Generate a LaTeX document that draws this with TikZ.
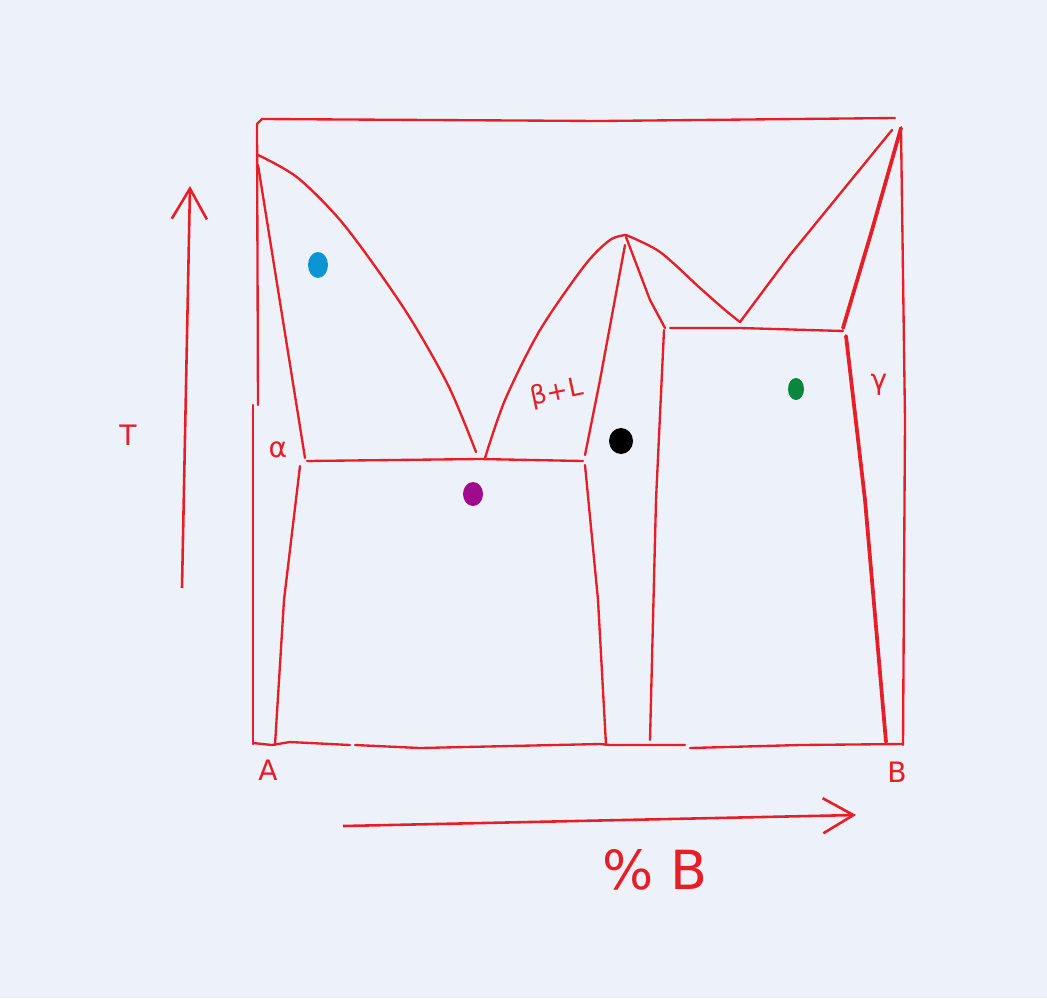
\documentclass[tikz,border=0pt]{standalone}
\usepackage{fontspec}
\usepackage{tikz}
\usetikzlibrary{arrows.meta}
\newfontfamily\labfont{DejaVu Sans}
\definecolor{pen}{RGB}{230,30,40}
\definecolor{paper}{RGB}{237,242,250}
\definecolor{dotblue}{RGB}{10,150,210}
\definecolor{dotpurple}{RGB}{160,10,140}
\definecolor{dotgreen}{RGB}{10,135,60}
\tikzset{
  ink/.style={draw=pen, line width=2pt, line cap=round, line join=round},
  heavyink/.style={draw=pen, line width=3.2pt, line cap=round},
  axisarrow/.style={draw=pen, line width=2.2pt, -{Straight Barb[length=26pt,width=30pt,line width=2.2pt]}},
  lab/.style={text=pen, inner sep=1pt, font=\labfont\fontsize{24}{26}\selectfont},
}

\begin{document}
\begin{tikzpicture}[x=0.03cm,y=-0.03cm]
			%%%%% START %%%%%
			\fill[paper] (0,0) rectangle (1047,998);
			\useasboundingbox (0,0) rectangle (1047,998);
			
			% outer frame
			\draw[ink] (895,118) -- (600,121) -- (262,119) -- (257,124) -- (258,405);
			\draw[ink] (253,405) -- (253,744);
			\draw[ink] (901,130) -- (905,420) -- (903,745);
			\draw[ink] (253,743) -- (272,745) -- (290,742) -- (350,745);
			\draw[ink] (355,745) -- (420,748) -- (600,744) -- (610,745) -- (685,745);
			\draw[ink] (690,748) -- (800,745) -- (903,744);
			
			% left liquidus and alpha solvus
			\draw[ink] plot[smooth] coordinates {(258,155) (298,178) (345,226) (405,310) (448,385) (476,452)};
			\draw[ink] (258,165) -- (305,458);
			\draw[ink] (300,466) -- (284,600) -- (275,745);
			
			% eutectic A-beta
			\draw[ink] (307,461) -- (480,459) -- (583,461);
			
			% beta + L and beta compound
			\draw[ink] plot[smooth] coordinates {(485,458) (505,400) (540,330) (585,265) (610,240) (626,235)};
			\draw[ink] (625,245) -- (600,380) -- (585,455);
			\draw[ink] (585,465) -- (598,600) -- (606,745);
			\draw[ink] (626,237) -- (650,300) -- (665,328);
			\draw[ink] (664,330) -- (656,500) -- (650,740);
			
			% right liquidus
			\draw[ink] plot[smooth] coordinates {(626,235) (660,252) (700,288) (725,310) (740,322)};
			\draw[ink] (740,322) -- (790,255) -- (892,130);
			
			% eutectic beta-gamma
			\draw[ink] (670,328) -- (740,328) -- (843,331);
			
			% gamma solvus
			\draw[heavyink] (843,328) -- (872,230) -- (901,128);
			\draw[heavyink] (846,336) -- (865,500) -- (886,742);
			
			% state points
			\fill[dotblue] (318,265) ellipse (10 and 13);
			\fill[dotpurple] (473,494) ellipse (10 and 12);
			\fill[black] (621,441) ellipse (12 and 13);
			\fill[dotgreen] (796,389) ellipse (8 and 11);
			
			% phase labels
			\node[lab, rotate=12, font=\labfont\fontsize{22}{24}\selectfont] (betaL) at (557,393) {β+L};
			\node[lab] (alpha) at (278,450) {α};
			\node[lab] (gamma) at (879,385) {γ};
			\node[lab] (compA) at (268,770) {A};
			\node[lab] (compB) at (897,772) {B};
			\node[lab] (temp) at (128,435) {T};
			\node[text=pen, font=\labfont\fontsize{46}{50}\selectfont] (pctB) at (655,870) {\% B};
			
			% axes
			\coordinate (tlow) at (182,588);
			\coordinate (thigh) at (190,186);
			\coordinate (xlow) at (343,826);
			\coordinate (xhigh) at (856,815);
			\draw[axisarrow] (tlow) -- (thigh);
			\draw[axisarrow] (xlow) -- (xhigh);
			%%%%% END %%%%%
\end{tikzpicture}
\end{document}
